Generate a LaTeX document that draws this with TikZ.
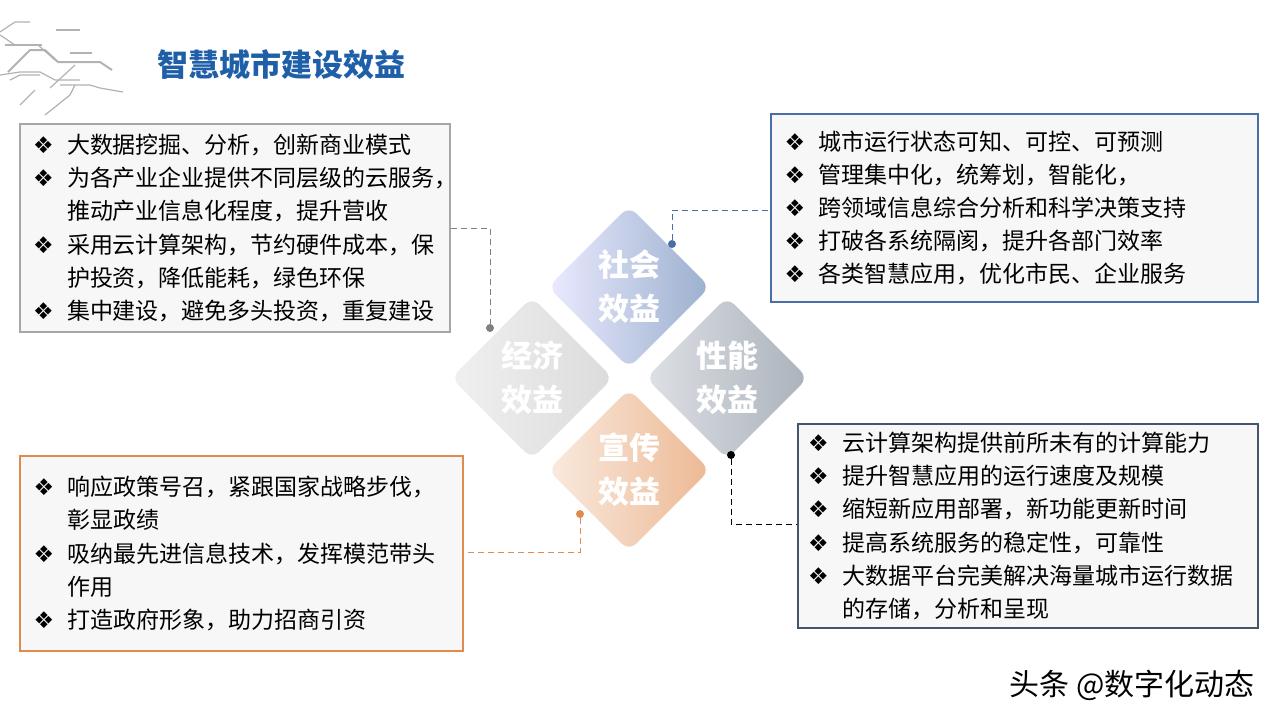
\documentclass[tikz,border=0pt]{standalone}
\usepackage{fontspec}
\setmainfont{Noto Sans CJK SC}
\newfontfamily\dingfont{DejaVu Sans}
\usetikzlibrary{shapes.geometric}
\definecolor{titleblue}{HTML}{1F5FA8}
\definecolor{socblue}{HTML}{4A6FA5}
\definecolor{perfgray}{HTML}{44546A}
\definecolor{promorange}{HTML}{E08A4C}
\newcommand{\bul}{\makebox[17pt][l]{\dingfont ❖}}
\newcommand{\ind}{\hspace*{17pt}}
\tikzset{
  gem/.style={diamond, minimum width=81pt, minimum height=81pt, inner sep=0pt, rounded corners=5pt,
    text=white, font=\fontsize{15.5}{22}\selectfont\bfseries, align=center},
  infobox/.style={draw, line width=1pt, fill=gray!6, inner xsep=6.5pt, inner ysep=0pt,
    align=left, font=\fontsize{11.5}{16.6}\selectfont},
  leader/.style={densely dashed, line width=0.5pt},
  pin/.style={circle, fill, inner sep=0pt, minimum size=4pt},
  trace/.style={gray!60, line width=0.6pt}
}
\begin{document}
\begin{tikzpicture}[x=0.5pt, y=-0.5pt]
\useasboundingbox (0,0) rectangle (1280,720);
%circuit decoration
\draw[trace] (0,32) -- (15,22) -- (30,22);
\draw[trace] (0,35) -- (15,45) -- (38,45) -- (55,60);
\draw[trace, line width=1.2pt] (5,45) -- (42,45);
\draw[trace] (56,30) -- (65,30) -- (80,30);
\draw[trace, line width=1pt] (8,72) -- (30,50) -- (45,50) -- (58,62) -- (100,62) -- (112,70);
\draw[trace, line width=1.2pt] (70,53) -- (92,53);
\draw[trace] (0,75) -- (20,72) -- (40,72) -- (55,80) -- (80,80);
\draw[trace] (10,80) -- (20,75) -- (40,75);
\draw[trace] (60,85) -- (90,85) -- (100,88) -- (123,92);
\draw[trace] (50,88) -- (75,65);
\draw[trace] (20,105) -- (35,90);
\draw[trace] (45,115) -- (70,95) -- (75,85);
%title
\node[anchor=west, text=titleblue, font=\fontsize{15.5}{18}\selectfont\bfseries] (title) at (150,65) {智慧城市建设效益};
%diamonds
\node[gem, left color=blue!8!white, right color=socblue!55!white] (soc) at (629,287) {社会\\效益};
\node[gem, left color=gray!12, right color=gray!28] (eco) at (532,378) {经济\\效益};
\node[gem, left color=perfgray!18, right color=perfgray!45] (perf) at (727,378) {性能\\效益};
\node[gem, left color=promorange!18, right color=promorange!60] (prom) at (629,470) {宣传\\效益};
%boxes
\node[infobox, draw=gray!70, minimum width=215pt, minimum height=104pt, text width=202pt] (ecobox) at (235,228) {%
\bul 大数据挖掘、分析，创新商业模式\\
\bul 为各产业企业提供不同层级的云服务，\\
\ind 推动产业信息化程度，提升营收\\
\bul 采用云计算架构，节约硬件成本，保\\
\ind 护投资，降低能耗，绿色环保\\
\bul 集中建设，避免多头投资，重复建设};
\node[infobox, draw=socblue, minimum width=243.5pt, minimum height=94pt, text width=230pt] (socbox) at (1014.5,208) {%
\bul 城市运行状态可知、可控、可预测\\
\bul 管理集中化，统筹划，智能化，\\
\bul 跨领域信息综合分析和科学决策支持\\
\bul 打破各系统隔阂，提升各部门效率\\
\bul 各类智慧应用，优化市民、企业服务};
\node[infobox, draw=perfgray, minimum width=230pt, minimum height=102pt, text width=220pt, inner xsep=4pt] (perfbox) at (1028,526) {%
\bul 云计算架构提供前所未有的计算能力\\
\bul 提升智慧应用的运行速度及规模\\
\bul 缩短新应用部署，新功能更新时间\\
\bul 提高系统服务的稳定性，可靠性\\
\bul 大数据平台完美解决海量城市运行数据\\
\ind 的存储，分析和呈现};
\node[infobox, draw=promorange, minimum width=221.5pt, minimum height=97.5pt, text width=208pt] (prombox) at (241.5,553.5) {%
\bul 响应政策号召，紧跟国家战略步伐，\\
\ind 彰显政绩\\
\bul 吸纳最先进信息技术，发挥模范带头\\
\ind 作用\\
\bul 打造政府形象，助力招商引资};
%leaders
\node[pin, fill=gray] (ecopin) at (490,328) {};
\node[pin, fill=socblue] (socpin) at (672,244) {};
\node[pin, fill=black] (perfpin) at (731,455) {};
\node[pin, fill=promorange] (prompin) at (580,514) {};
\draw[leader, gray] (ecobox.east |- 0,228) -| (ecopin);
\draw[leader, socblue] (socpin) |- (socbox.west |- 0,210);
\draw[leader, black] (perfpin) |- (perfbox.west |- 0,524);
\draw[leader, promorange] (prompin) |- (prombox.east |- 0,552);
%watermark
\node[anchor=east, font=\fontsize{15}{17}\selectfont] (mark) at (1262,685) {头条 @数字化动态};
\end{tikzpicture}
\end{document}
